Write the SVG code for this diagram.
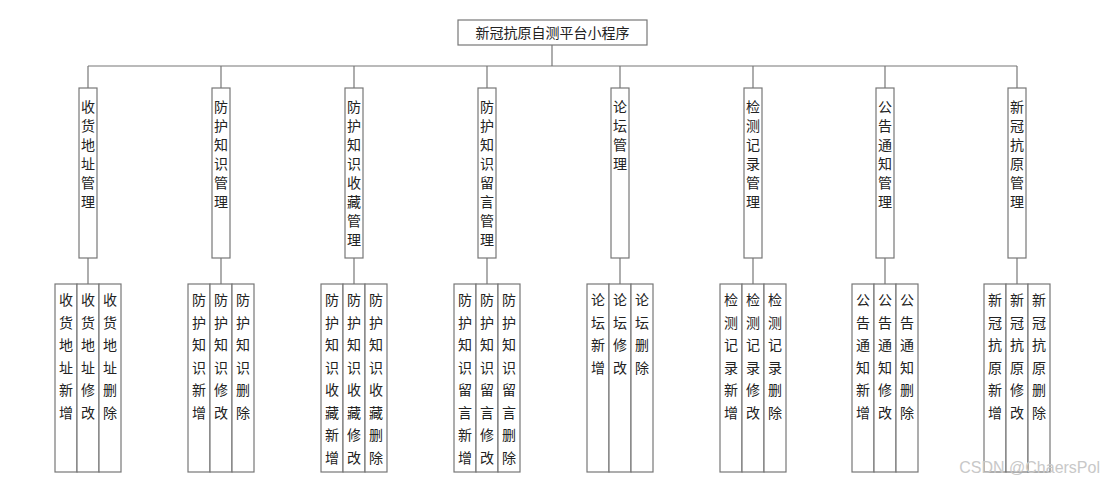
<svg xmlns="http://www.w3.org/2000/svg" width="1106" height="487" viewBox="0 0 1106 487">
<style>
rect{fill:#fff;stroke:#777;stroke-width:1.2}
line{stroke:#777;stroke-width:1.2}
text{font-family:"Noto Sans CJK SC",sans-serif;font-size:14px;fill:#222;text-anchor:middle}
</style>
<rect x="0" y="0" width="1106" height="487" style="stroke:none"/>
<g id="connectors">
<line x1="552" y1="45" x2="552" y2="66"/>
<line x1="88" y1="66" x2="1017" y2="66"/>
<line x1="88" y1="66" x2="88" y2="88"/><line x1="221" y1="66" x2="221" y2="88"/><line x1="354" y1="66" x2="354" y2="88"/><line x1="487" y1="66" x2="487" y2="88"/><line x1="620" y1="66" x2="620" y2="88"/><line x1="753" y1="66" x2="753" y2="88"/><line x1="885" y1="66" x2="885" y2="88"/><line x1="1017" y1="66" x2="1017" y2="88"/>
<line x1="88" y1="258" x2="88" y2="284"/><line x1="221" y1="258" x2="221" y2="284"/><line x1="354" y1="258" x2="354" y2="284"/><line x1="487" y1="258" x2="487" y2="284"/><line x1="620" y1="258" x2="620" y2="284"/><line x1="753" y1="258" x2="753" y2="284"/><line x1="885" y1="258" x2="885" y2="284"/><line x1="1017" y1="258" x2="1017" y2="284"/>
</g>
<g id="root"><rect x="458" y="20" width="189" height="25"/><text x="552.5" y="37.5">新冠抗原自测平台小程序</text></g>
<g id="n1"><rect x="79" y="88" width="18" height="170"/><text x="88" y="112">收<tspan x="88" dy="19">货</tspan><tspan x="88" dy="19">地</tspan><tspan x="88" dy="19">址</tspan><tspan x="88" dy="19">管</tspan><tspan x="88" dy="19">理</tspan></text></g>
<g id="n2"><rect x="212" y="88" width="18" height="170"/><text x="221" y="112">防<tspan x="221" dy="19">护</tspan><tspan x="221" dy="19">知</tspan><tspan x="221" dy="19">识</tspan><tspan x="221" dy="19">管</tspan><tspan x="221" dy="19">理</tspan></text></g>
<g id="n3"><rect x="345" y="88" width="18" height="170"/><text x="354" y="112">防<tspan x="354" dy="19">护</tspan><tspan x="354" dy="19">知</tspan><tspan x="354" dy="19">识</tspan><tspan x="354" dy="19">收</tspan><tspan x="354" dy="19">藏</tspan><tspan x="354" dy="19">管</tspan><tspan x="354" dy="19">理</tspan></text></g>
<g id="n4"><rect x="478" y="88" width="18" height="170"/><text x="487" y="112">防<tspan x="487" dy="19">护</tspan><tspan x="487" dy="19">知</tspan><tspan x="487" dy="19">识</tspan><tspan x="487" dy="19">留</tspan><tspan x="487" dy="19">言</tspan><tspan x="487" dy="19">管</tspan><tspan x="487" dy="19">理</tspan></text></g>
<g id="n5"><rect x="611" y="88" width="18" height="170"/><text x="620" y="112">论<tspan x="620" dy="19">坛</tspan><tspan x="620" dy="19">管</tspan><tspan x="620" dy="19">理</tspan></text></g>
<g id="n6"><rect x="744" y="88" width="18" height="170"/><text x="753" y="112">检<tspan x="753" dy="19">测</tspan><tspan x="753" dy="19">记</tspan><tspan x="753" dy="19">录</tspan><tspan x="753" dy="19">管</tspan><tspan x="753" dy="19">理</tspan></text></g>
<g id="n7"><rect x="876" y="88" width="18" height="170"/><text x="885" y="112">公<tspan x="885" dy="19">告</tspan><tspan x="885" dy="19">通</tspan><tspan x="885" dy="19">知</tspan><tspan x="885" dy="19">管</tspan><tspan x="885" dy="19">理</tspan></text></g>
<g id="n8"><rect x="1008" y="88" width="18" height="170"/><text x="1017" y="112">新<tspan x="1017" dy="19">冠</tspan><tspan x="1017" dy="19">抗</tspan><tspan x="1017" dy="19">原</tspan><tspan x="1017" dy="19">管</tspan><tspan x="1017" dy="19">理</tspan></text></g>
<g id="leaves">
<rect x="55" y="284" width="22" height="188"/><rect x="77" y="284" width="22" height="188"/><rect x="99" y="284" width="22" height="188"/>
<rect x="188" y="284" width="22" height="188"/><rect x="210" y="284" width="22" height="188"/><rect x="232" y="284" width="22" height="188"/>
<rect x="321" y="284" width="22" height="188"/><rect x="343" y="284" width="22" height="188"/><rect x="365" y="284" width="22" height="188"/>
<rect x="454" y="284" width="22" height="188"/><rect x="476" y="284" width="22" height="188"/><rect x="498" y="284" width="22" height="188"/>
<rect x="587" y="284" width="22" height="188"/><rect x="609" y="284" width="22" height="188"/><rect x="631" y="284" width="22" height="188"/>
<rect x="720" y="284" width="22" height="188"/><rect x="742" y="284" width="22" height="188"/><rect x="764" y="284" width="22" height="188"/>
<rect x="852" y="284" width="22" height="188"/><rect x="874" y="284" width="22" height="188"/><rect x="896" y="284" width="22" height="188"/>
<rect x="984" y="284" width="22" height="188"/><rect x="1006" y="284" width="22" height="188"/><rect x="1028" y="284" width="22" height="188"/>
</g>
<g id="leaftext" style="writing-mode:vertical-rl;text-orientation:upright">
<text x="66" y="293" style="text-anchor:start;letter-spacing:8.5px">收货地址新增</text><text x="88" y="293" style="text-anchor:start;letter-spacing:8.5px">收货地址修改</text><text x="110" y="293" style="text-anchor:start;letter-spacing:8.5px">收货地址删除</text>
<text x="199" y="293" style="text-anchor:start;letter-spacing:8.5px">防护知识新增</text><text x="221" y="293" style="text-anchor:start;letter-spacing:8.5px">防护知识修改</text><text x="243" y="293" style="text-anchor:start;letter-spacing:8.5px">防护知识删除</text>
<text x="332" y="293" style="text-anchor:start;letter-spacing:8.5px">防护知识收藏新增</text><text x="354" y="293" style="text-anchor:start;letter-spacing:8.5px">防护知识收藏修改</text><text x="376" y="293" style="text-anchor:start;letter-spacing:8.5px">防护知识收藏删除</text>
<text x="465" y="293" style="text-anchor:start;letter-spacing:8.5px">防护知识留言新增</text><text x="487" y="293" style="text-anchor:start;letter-spacing:8.5px">防护知识留言修改</text><text x="509" y="293" style="text-anchor:start;letter-spacing:8.5px">防护知识留言删除</text>
<text x="598" y="293" style="text-anchor:start;letter-spacing:8.5px">论坛新增</text><text x="620" y="293" style="text-anchor:start;letter-spacing:8.5px">论坛修改</text><text x="642" y="293" style="text-anchor:start;letter-spacing:8.5px">论坛删除</text>
<text x="731" y="293" style="text-anchor:start;letter-spacing:8.5px">检测记录新增</text><text x="753" y="293" style="text-anchor:start;letter-spacing:8.5px">检测记录修改</text><text x="775" y="293" style="text-anchor:start;letter-spacing:8.5px">检测记录删除</text>
<text x="863" y="293" style="text-anchor:start;letter-spacing:8.5px">公告通知新增</text><text x="885" y="293" style="text-anchor:start;letter-spacing:8.5px">公告通知修改</text><text x="907" y="293" style="text-anchor:start;letter-spacing:8.5px">公告通知删除</text>
<text x="995" y="293" style="text-anchor:start;letter-spacing:8.5px">新冠抗原新增</text><text x="1017" y="293" style="text-anchor:start;letter-spacing:8.5px">新冠抗原修改</text><text x="1039" y="293" style="text-anchor:start;letter-spacing:8.5px">新冠抗原删除</text>
</g>
<text x="1100" y="473" style="text-anchor:end;font-family:'Liberation Sans',sans-serif;font-size:16px;fill:#c8c8c8">CSDN @ChaersPol</text>
</svg>
